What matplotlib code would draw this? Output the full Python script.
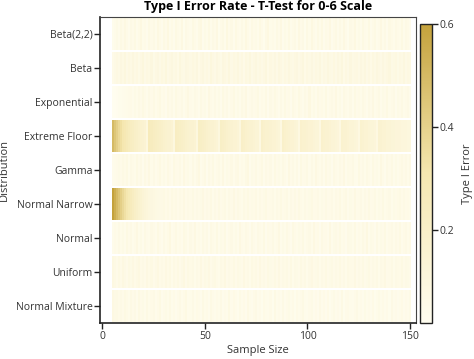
import numpy as np
import matplotlib
matplotlib.use('Agg')
import matplotlib.pyplot as plt
from matplotlib.colors import LinearSegmentedColormap, Normalize

plt.rcParams['font.family'] = ['Open Sans', 'DejaVu Sans']

distributions = ['Beta(2,2)', 'Beta', 'Exponential', 'Extreme Floor', 'Gamma',
                 'Normal Narrow', 'Normal', 'Uniform', 'Normal Mixture']
sample_sizes = list(range(5, 151))

# type I error rates, per mille, n = 5..150
beta22 = [40, 52, 66, 48, 75, 55, 83, 60, 44, 70,
          58, 79, 47, 65, 88, 50, 62, 42, 76, 57,
          68, 45, 82, 59, 41, 73, 54, 90, 49, 64,
          43, 78, 61, 52, 84, 39, 71, 56, 47, 80,
          63, 46, 74, 87, 42, 67, 53, 79, 48, 70,
          57, 85, 40, 62, 75, 49, 91, 55, 68, 44,
          77, 58, 45, 72, 52, 86, 61, 41, 74, 54,
          66, 47, 81, 57, 39, 71, 89, 53, 63, 46,
          76, 56, 84, 43, 67, 51, 79, 48, 62, 72,
          45, 83, 55, 69, 40, 76, 52, 88, 60, 47,
          73, 51, 80, 44, 66, 57, 85, 42, 61, 75,
          48, 68, 53, 82, 56, 39, 72, 59, 87, 50,
          67, 45, 77, 55, 52, 81, 42, 63, 73, 47,
          58, 84, 51, 69, 44, 76, 60, 48, 72, 55,
          53, 80, 46, 68, 62, 44]
beta = [55, 68, 84, 72, 93, 79, 101, 70, 88, 76,
        97, 73, 90, 66, 82, 104, 71, 89, 77, 99,
        67, 85, 94, 72, 91, 78, 106, 69, 83, 96,
        75, 88, 65, 102, 81, 70, 94, 86, 73, 92,
        78, 99, 64, 85, 97, 75, 89, 69, 105, 82,
        72, 93, 78, 66, 95, 86, 74, 100, 68, 90,
        81, 98, 71, 87, 63, 92, 77, 103, 69, 85,
        95, 74, 89, 68, 82, 100, 65, 86, 76, 93,
        70, 96, 83, 66, 90, 74, 99, 78, 69, 87,
        94, 71, 82, 101, 64, 86, 75, 93, 68, 90,
        77, 98, 66, 85, 74, 95, 81, 69, 91, 72,
        93, 78, 102, 65, 86, 71, 96, 75, 83, 89,
        68, 94, 77, 99, 72, 86, 64, 91, 75, 97,
        82, 69, 93, 74, 87, 100, 71, 79, 90, 66,
        85, 75, 96, 68, 83, 78]
exponential = [20, 26, 31, 36, 40, 44, 47, 51, 55, 60,
               48, 66, 52, 72, 56, 78, 61, 47, 70, 58,
               75, 50, 64, 81, 53, 62, 44, 73, 57, 68,
               49, 79, 63, 54, 71, 46, 65, 84, 58, 52,
               69, 61, 45, 76, 56, 66, 48, 82, 60, 53,
               72, 51, 67, 43, 80, 57, 70, 47, 62, 77,
               52, 66, 45, 73, 60, 85, 48, 56, 69, 54,
               64, 79, 49, 61, 53, 74, 44, 68, 57, 78,
               60, 47, 70, 52, 81, 56, 65, 43, 73, 59,
               51, 77, 62, 48, 69, 55, 86, 53, 66, 45,
               74, 56, 64, 50, 79, 47, 61, 71, 54, 83,
               52, 67, 44, 75, 60, 51, 70, 48, 80, 57,
               65, 50, 74, 61, 45, 69, 55, 84, 52, 62,
               73, 47, 66, 56, 78, 51, 63, 71, 44, 67,
               58, 76, 50, 62, 70, 48]
extreme_floor = [500, 450, 410, 370, 340, 310, 290, 270, 250, 230, 220, 200, 190, 180, 170, 160, 150, 100,
                 260, 240, 230, 220, 210, 200, 190, 180, 170, 160, 160, 150, 100,
                 230, 220, 210, 200, 190, 180, 170, 160, 160, 150, 100,
                 220, 210, 200, 190, 180, 170, 160, 160, 150, 140, 100,
                 210, 200, 190, 180, 170, 160, 150, 150, 140, 100,
                 200, 190, 180, 170, 160, 160, 150, 140, 140, 90,
                 190, 180, 170, 170, 160, 150, 150, 140, 130, 90,
                 190, 180, 170, 160, 150, 150, 140, 130, 90,
                 180, 170, 170, 160, 150, 150, 140, 130, 130, 90,
                 180, 170, 160, 160, 150, 140, 140, 130, 120, 90,
                 170, 160, 160, 150, 140, 140, 130, 120, 90,
                 170, 160, 150, 150, 140, 130, 130, 120, 90,
                 160, 160, 150, 150, 140, 140, 130, 130, 120, 120, 120, 110, 110, 110, 100, 100]
gamma = [42, 50, 58, 66, 54, 74, 59, 81, 49, 70,
         63, 51, 78, 55, 68, 44, 76, 57, 85, 53,
         71, 47, 62, 80, 52, 67, 46, 75, 58, 43,
         79, 61, 54, 72, 45, 83, 57, 66, 48, 74,
         53, 68, 87, 49, 62, 76, 42, 71, 56, 79,
         48, 63, 72, 52, 82, 46, 67, 55, 75, 51,
         69, 78, 47, 61, 53, 73, 88, 44, 66, 57,
         76, 52, 63, 81, 48, 68, 55, 72, 45, 79,
         56, 67, 50, 75, 61, 47, 84, 54, 71, 51,
         68, 43, 78, 56, 60, 74, 48, 70, 53, 83,
         62, 51, 72, 46, 80, 55, 67, 44, 76, 59,
         52, 71, 57, 85, 47, 66, 61, 75, 50, 45,
         79, 55, 68, 52, 73, 60, 48, 77, 56, 66,
         51, 82, 62, 44, 71, 57, 76, 49, 67, 47,
         60, 75, 55, 69, 52, 72]
normal_narrow = [600, 545, 495, 450, 410, 372, 338, 306, 278, 252,
                 228, 207, 188, 170, 154, 139, 126, 114, 103, 94,
                 86, 80, 75, 72, 69, 78, 62, 74, 58, 81,
                 64, 76, 55, 70, 60, 83, 57, 68, 63, 79,
                 54, 72, 61, 66, 84, 56, 71, 59, 77, 52,
                 69, 58, 80, 55, 65, 74, 51, 70, 62, 82,
                 57, 75, 60, 53, 73, 59, 78, 54, 67, 63,
                 76, 51, 70, 58, 66, 81, 55, 62, 72, 52,
                 68, 59, 79, 54, 64, 75, 50, 69, 58, 73,
                 55, 77, 61, 52, 71, 57, 67, 80, 56, 63,
                 72, 51, 66, 58, 76, 54, 62, 70, 50, 68,
                 59, 78, 53, 64, 73, 49, 67, 57, 82, 55,
                 63, 71, 50, 68, 58, 77, 54, 62, 74, 51,
                 66, 57, 79, 53, 61, 72, 49, 67, 58, 64,
                 73, 54, 68, 57, 63, 50]
normal = [46, 60, 50, 72, 53, 66, 45, 78, 56, 69,
          48, 61, 82, 52, 67, 44, 74, 55, 51, 70,
          62, 47, 79, 57, 42, 71, 53, 65, 86, 49,
          56, 75, 52, 63, 45, 80, 66, 48, 72, 54,
          84, 51, 62, 47, 76, 55, 68, 43, 73, 60,
          50, 79, 46, 67, 54, 77, 44, 61, 71, 52,
          66, 48, 83, 56, 51, 72, 59, 43, 76, 55,
          47, 70, 61, 50, 81, 44, 65, 54, 75, 51,
          60, 85, 47, 66, 52, 73, 56, 42, 80, 59,
          50, 67, 55, 77, 46, 62, 72, 51, 84, 56,
          65, 44, 76, 54, 61, 49, 82, 47, 66, 71,
          55, 78, 50, 63, 43, 72, 67, 51, 80, 46,
          60, 52, 73, 55, 86, 47, 66, 59, 44, 76,
          51, 67, 56, 81, 48, 62, 72, 50, 68, 54,
          77, 46, 60, 71, 52, 65]
uniform = [88, 74, 58, 80, 63, 86, 70, 55, 78, 66,
           84, 60, 73, 90, 62, 69, 54, 82, 65, 77,
           57, 72, 87, 61, 68, 59, 85, 64, 79, 53,
           74, 62, 81, 56, 70, 89, 58, 78, 64, 73,
           52, 69, 61, 84, 57, 75, 66, 82, 55, 71,
           79, 60, 51, 74, 65, 86, 58, 70, 62, 80,
           54, 76, 67, 57, 83, 61, 72, 50, 78, 64,
           75, 58, 85, 62, 70, 55, 80, 66, 59, 77,
           61, 83, 54, 71, 65, 76, 57, 81, 50, 72,
           66, 58, 79, 62, 75, 53, 70, 84, 60, 67,
           76, 51, 71, 61, 80, 56, 66, 74, 54, 72,
           62, 81, 57, 69, 50, 76, 65, 60, 85, 56,
           71, 61, 77, 54, 66, 80, 57, 70, 62, 75,
           53, 72, 65, 82, 58, 62, 76, 51, 70, 64,
           60, 78, 56, 71, 66, 54]
normal_mixture = [82, 68, 76, 60, 72, 55, 80, 64, 52, 74,
                  58, 69, 48, 77, 54, 66, 45, 73, 51, 62,
                  70, 47, 59, 78, 44, 56, 67, 50, 75, 46,
                  63, 42, 57, 72, 48, 61, 80, 45, 53, 68,
                  47, 64, 58, 41, 76, 52, 62, 44, 73, 57,
                  45, 61, 53, 69, 41, 58, 49, 78, 46, 65,
                  52, 39, 66, 48, 62, 44, 74, 53, 42, 59,
                  70, 47, 57, 40, 65, 51, 45, 63, 38, 75,
                  48, 58, 44, 70, 41, 54, 67, 47, 59, 39,
                  63, 45, 55, 73, 48, 42, 58, 66, 44, 54,
                  41, 71, 47, 59, 44, 64, 38, 53, 67, 46,
                  58, 43, 74, 40, 54, 63, 47, 44, 57, 69,
                  45, 55, 41, 66, 47, 58, 43, 64, 38, 53,
                  67, 46, 59, 43, 54, 40, 70, 47, 58, 44,
                  53, 64, 42, 58, 47, 66]

rows = [beta22, beta, exponential, extreme_floor, gamma,
        normal_narrow, normal, uniform, normal_mixture]
rates = np.array(rows, dtype=float) / 1000.0

cmap = LinearSegmentedColormap.from_list('gold', ['#fffdf0', '#f5e7b0', '#c4a23c'])
norm = Normalize(vmin=rates.min(), vmax=rates.max())

fig = plt.figure(figsize=(4.74, 3.59), dpi=100)
ax = fig.add_axes([0.211, 0.100, 0.667, 0.853])
cax = fig.add_axes([0.886, 0.100, 0.025, 0.833])

x = np.array(sample_sizes)
xedges = np.append(x - 0.5, x[-1] + 0.5)
for i, r in enumerate(rates):
    yedges = [i - 0.47, i + 0.47]
    mesh = ax.pcolormesh(xedges, yedges, r[np.newaxis, :], cmap=cmap, norm=norm,
                         shading='flat', linewidth=0, antialiased=False)

ax.set_xlim(-1.1, 153)
ax.set_ylim(8.5, -0.5)
ax.set_yticks(range(len(distributions)))
ax.set_yticklabels(distributions)
ax.set_xticks([0, 50, 100, 150])
ax.tick_params(axis='both', labelsize=7.5, length=4, width=1, color='#222222',
               labelcolor='#333333', direction='out', pad=1.5)
for side in ['left', 'bottom']:
    ax.spines[side].set_linewidth(1.2)
    ax.spines[side].set_color('#222222')
for side in ['top', 'right']:
    ax.spines[side].set_linewidth(0.8)
    ax.spines[side].set_color('#444444')
ax.set_xlabel('Sample Size', fontsize=8, color='#333333', labelpad=2)
ax.set_ylabel('Distribution', fontsize=8, color='#333333', labelpad=4)
ax.set_title('Type I Error Rate - T-Test for 0-6 Scale', fontsize=9,
             fontweight='bold', pad=5)

cb = fig.colorbar(mesh, cax=cax)
cb.set_ticks([0.2, 0.4, 0.6])
cb.ax.tick_params(labelsize=7.5, length=4, width=1, color='#222222',
                  labelcolor='#333333', pad=1.5)
cb.outline.set_linewidth(1.0)
cb.outline.set_edgecolor('#222222')
cb.set_label('Type I Error', fontsize=8, color='#333333', labelpad=6)

fig.savefig('out.png', dpi=100)
